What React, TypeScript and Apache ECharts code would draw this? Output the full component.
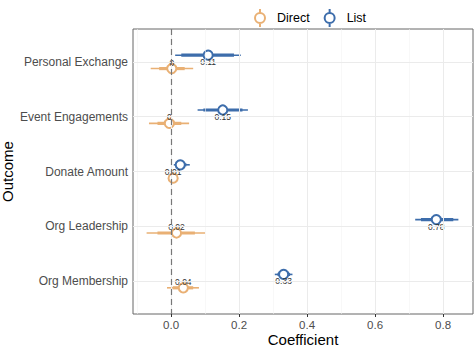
import React, { useEffect, useRef } from "react";
import * as echarts from "echarts";

const categories = ["Personal Exchange", "Event Engagements", "Donate Amount", "Org Leadership", "Org Membership"];

const directEst = [0.002, -0.005, 0.006, 0.016, 0.036];
const directThinLo = [-0.06, -0.065, -0.004, -0.072, -0.012];
const directThinHi = [0.065, 0.053, 0.016, 0.1, 0.082];
const directThickLo = [-0.035, -0.04, 0.0, -0.04, 0.005];
const directThickHi = [0.04, 0.03, 0.012, 0.07, 0.065];
const directLabels = ["0", "0", "0.01", "0.02", "0.04"];

const listEst = [0.109, 0.152, 0.027, 0.78, 0.331];
const listThinLo = [0.012, 0.078, 0.008, 0.718, 0.305];
const listThinHi = [0.205, 0.226, 0.055, 0.845, 0.357];
const listThickLo = [0.03, 0.095, 0.013, 0.735, 0.313];
const listThickHi = [0.185, 0.21, 0.045, 0.83, 0.35];
const listLabels = ["0.11", "0.15", "", "0.78", "0.33"];

const xTicks = [0, 0.2, 0.4, 0.6, 0.8];
const xMinor = [-0.1, 0.1, 0.3, 0.5, 0.7];

const DIRECT_COLOR = "#E9B074";
const LIST_COLOR = "#3D6DAB";
const FONT = "Liberation Sans, Arial, Helvetica, sans-serif";
const DODGE = 0.122;

function buildData(est: number[], tlo: number[], thi: number[], klo: number[], khi: number[], offset: number) {
  return est.map((e, i) => [i + 1 + offset, e, tlo[i], thi[i], klo[i], khi[i]]);
}

function makeRender(color: string, labels: string[], labelAbove: boolean) {
  return (params: any, api: any) => {
    const y = api.value(0);
    const est = api.value(1);
    const a = api.coord([api.value(2), y]);
    const b = api.coord([api.value(3), y]);
    const c = api.coord([api.value(4), y]);
    const d = api.coord([api.value(5), y]);
    const p = api.coord([est, y]);
    const label = labels[params.dataIndex];
    const children: any[] = [
      { type: "line", shape: { x1: a[0], y1: a[1], x2: b[0], y2: b[1] }, style: { stroke: color, lineWidth: 1.6 } },
      { type: "line", shape: { x1: c[0], y1: c[1], x2: d[0], y2: d[1] }, style: { stroke: color, lineWidth: 3.2 } },
      { type: "circle", shape: { cx: p[0], cy: p[1], r: 4.6 }, style: { fill: "#fff", stroke: color, lineWidth: 2 } },
    ];
    if (label) {
      children.push({
        type: "text",
        x: p[0],
        y: labelAbove ? p[1] - 6 : p[1] + 7,
        z2: 10,
        style: { text: label, fill: "#333", fontSize: 8.5, fontFamily: FONT, align: "center", verticalAlign: "middle" },
      });
    }
    return { type: "group", children };
  };
}

export default function App() {
  const ref = useRef<HTMLDivElement>(null);
  useEffect(() => {
    if (!ref.current) return;
    const chart = echarts.init(ref.current, null, { renderer: "svg" });
    const iconPath = "path://M6 0 L6 4 M11 9 A5 5 0 1 1 1 9 A5 5 0 1 1 11 9 Z M6 14 L6 18";
    chart.setOption({
      animation: false,
      textStyle: { fontFamily: FONT },
      legend: {
        left: 249,
        top: 3,
        itemWidth: 10,
        itemHeight: 18,
        itemGap: 14,
        icon: iconPath,
        textStyle: { fontSize: 12.5, color: "#000", fontFamily: FONT, padding: [0, 0, 0, 7] },
        data: [
          { name: "Direct", itemStyle: { color: "#fff", borderColor: DIRECT_COLOR, borderWidth: 2 } },
          { name: "List", itemStyle: { color: "#fff", borderColor: LIST_COLOR, borderWidth: 2 } },
        ],
      },
      grid: {
        left: 133,
        right: 1,
        top: 29,
        bottom: 34,
        containLabel: false,
        outerBoundsMode: "none",
        show: true,
        borderColor: "#666",
        borderWidth: 1,
        backgroundColor: "#fff",
      },
      xAxis: {
        type: "value",
        min: -0.112,
        max: 0.888,
        name: "Coefficient",
        nameLocation: "middle",
        nameGap: 18,
        nameMoveOverlap: false,
        nameTextStyle: { fontSize: 15, color: "#000", fontFamily: FONT },
        axisLine: { show: false },
        axisTick: { show: true, customValues: xTicks, length: 3, lineStyle: { color: "#333" } },
        axisLabel: { customValues: xTicks, formatter: (v: number) => v.toFixed(1), fontSize: 11.5, color: "#4d4d4d", margin: 5, fontFamily: FONT },
        splitLine: { show: false },
      },
      yAxis: {
        type: "value",
        inverse: true,
        min: 0.4,
        max: 5.6,
        name: "Outcome",
        nameLocation: "middle",
        nameGap: 118,
        nameMoveOverlap: false,
        nameRotate: 90,
        nameTextStyle: { fontSize: 15, color: "#000", fontFamily: FONT },
        axisLine: { show: false },
        axisTick: { show: true, customValues: [1, 2, 3, 4, 5], length: 4, lineStyle: { color: "#333" } },
        axisLabel: {
          customValues: [1, 2, 3, 4, 5],
          formatter: (v: number) => categories[Math.round(v) - 1] || "",
          fontSize: 12,
          color: "#4d4d4d",
          margin: 5,
          fontFamily: FONT,
        },
        splitLine: { show: false },
      },
      series: [
        {
          type: "line",
          name: "grid",
          data: [[0, 1]],
          showSymbol: false,
          lineStyle: { opacity: 0 },
          silent: true,
          z: 1,
          markLine: {
            silent: true,
            symbol: "none",
            label: { show: false },
            animation: false,
            data: [
              ...xTicks.map((v) => ({ xAxis: v, lineStyle: { color: "#ebebeb", width: 1, type: "solid" } })),
              ...xMinor.map((v) => ({ xAxis: v, lineStyle: { color: "#f3f3f3", width: 0.6, type: "solid" } })),
              ...[1, 2, 3, 4, 5].map((v) => ({ yAxis: v, lineStyle: { color: "#ebebeb", width: 1, type: "solid" } })),
            ],
          },
        },
        {
          type: "line",
          name: "zero",
          data: [[0, 1]],
          showSymbol: false,
          lineStyle: { opacity: 0 },
          silent: true,
          z: 2,
          markLine: {
            silent: true,
            symbol: "none",
            label: { show: false },
            animation: false,
            data: [{ xAxis: 0, lineStyle: { color: "#777", width: 1.2, type: [6, 4] } }],
          },
        },
        {
          type: "custom",
          name: "Direct",
          z: 3,
          itemStyle: { color: DIRECT_COLOR },
          encode: { x: [1, 2, 3, 4, 5], y: 0 },
          data: buildData(directEst, directThinLo, directThinHi, directThickLo, directThickHi, DODGE),
          renderItem: makeRender(DIRECT_COLOR, directLabels, true),
        },
        {
          type: "custom",
          name: "List",
          z: 3,
          itemStyle: { color: LIST_COLOR },
          encode: { x: [1, 2, 3, 4, 5], y: 0 },
          data: buildData(listEst, listThinLo, listThinHi, listThickLo, listThickHi, -DODGE),
          renderItem: makeRender(LIST_COLOR, listLabels, false),
        },
      ],
    });
    return () => chart.dispose();
  }, []);
  return <div ref={ref} style={{ width: 474, height: 348, position: "absolute", left: 0, top: 0 }} />;
}
